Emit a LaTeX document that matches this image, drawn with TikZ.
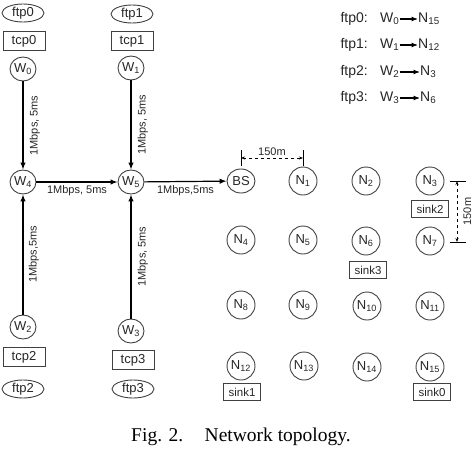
\documentclass[tikz,border=0pt]{standalone}
\usepackage{fontspec}
\setmainfont{Liberation Sans}
\newfontfamily\capfont{Liberation Serif}
\usetikzlibrary{shapes.geometric,arrows.meta}

\begin{document}
\begin{tikzpicture}[x=1pt,y=-1pt]
\tikzset{wnoeud/.style={draw=black!75, ellipse, line width=0.9pt, minimum width=26pt, minimum height=24pt, inner sep=0pt, text=black!85, font=\fontsize{13}{15}\selectfont}}
\tikzset{nnoeud/.style={draw=black!75, circle, line width=0.9pt, minimum size=28pt, inner sep=0pt, text=black!85, font=\fontsize{13}{15}\selectfont}}
\tikzset{tcpboite/.style={draw=black!75, rectangle, line width=0.9pt, minimum width=42pt, minimum height=19pt, inner sep=0pt, text=black!85, font=\fontsize{13}{15}\selectfont}}
\tikzset{ftpovale/.style={draw=black!75, ellipse, line width=0.9pt, minimum width=42pt, minimum height=18pt, inner sep=0pt, text=black!85, font=\fontsize{13}{15}\selectfont}}
\tikzset{puits/.style={draw=black!75, rectangle, line width=0.9pt, minimum width=37pt, minimum height=17pt, inner sep=0pt, text=black!85, font=\fontsize{11.5}{13}\selectfont}}
\tikzset{lien/.style={line width=1.2pt, -{Latex[length=7pt,width=5.5pt]}}}
\tikzset{debit/.style={inner sep=3pt, text=black!85, font=\fontsize{11}{13}\selectfont}}
\tikzset{cote/.style={dashed, line width=0.7pt, {Stealth[length=4pt,width=3pt]}-{Stealth[length=4pt,width=3pt]}}}
\tikzset{legende/.style={inner sep=0pt, text=black!85, font=\fontsize{14}{16}\selectfont}}
\tikzset{fleche/.style={line width=1.1pt, -{Latex[length=6.5pt,width=5pt]}}}
\useasboundingbox (0,0) rectangle (474,453);
% sources
\node[ftpovale] (F0) at (23,13) {ftp0};
\node[tcpboite] (T0) at (24,41) {tcp0};
\node[wnoeud] (W0) at (23,69) {W\textsubscript{0}};
\node[ftpovale] (F1) at (132,14) {ftp1};
\node[tcpboite] (T1) at (132,41) {tcp1};
\node[wnoeud] (W1) at (131,68) {W\textsubscript{1}};
\node[wnoeud] (W4) at (23,182) {W\textsubscript{4}};
\node[wnoeud] (W5) at (131,182) {W\textsubscript{5}};
\node[wnoeud] (W2) at (23,327) {W\textsubscript{2}};
\node[tcpboite] (T2) at (24,357) {tcp2};
\node[ftpovale] (F2) at (23,389) {ftp2};
\node[wnoeud] (W3) at (131,331) {W\textsubscript{3}};
\node[tcpboite] (T3) at (133,360) {tcp3};
\node[ftpovale] (F3) at (133,389) {ftp3};
% grille
\node[wnoeud, minimum width=28pt, minimum height=24pt] (BS) at (241,181) {BS};
\node[nnoeud] (N1) at (303,181) {N\textsubscript{1}};
\node[nnoeud] (N2) at (366,181) {N\textsubscript{2}};
\node[nnoeud] (N3) at (430,181) {N\textsubscript{3}};
\node[nnoeud] (N4) at (241,240) {N\textsubscript{4}};
\node[nnoeud] (N5) at (303,240) {N\textsubscript{5}};
\node[nnoeud] (N6) at (366,241) {N\textsubscript{6}};
\node[nnoeud] (N7) at (430,241) {N\textsubscript{7}};
\node[nnoeud] (N8) at (241,305) {N\textsubscript{8}};
\node[nnoeud] (N9) at (303,305) {N\textsubscript{9}};
\node[nnoeud] (N10) at (367,306) {N\textsubscript{10}};
\node[nnoeud] (N11) at (430,306) {N\textsubscript{11}};
\node[nnoeud] (N12) at (241,366) {N\textsubscript{12}};
\node[nnoeud] (N13) at (304,366) {N\textsubscript{13}};
\node[nnoeud] (N14) at (367,367) {N\textsubscript{14}};
\node[nnoeud] (N15) at (430,367) {N\textsubscript{15}};
\node[puits] (S2) at (430,209) {sink2};
\node[puits] (S3) at (368,270) {sink3};
\node[puits] (S1) at (242,392) {sink1};
\node[puits] (S0) at (432,392) {sink0};
% liens
\draw[lien] (W0) -- node[debit, midway, rotate=90, anchor=north, inner sep=6pt] {1Mbps, 5ms} (W4);
\draw[lien] (W1) -- node[debit, midway, rotate=90, anchor=north, inner sep=6pt] {1Mbps, 5ms} (W5);
\draw[lien] (W2) -- node[debit, midway, rotate=90, anchor=north, inner sep=5pt] {1Mbps,5ms} (W4);
\draw[lien] (W3) -- node[debit, midway, rotate=90, anchor=north, inner sep=6pt] {1Mbps, 5ms} (W5);
\draw[lien] (W4) -- node[debit, midway, below] {1Mbps, 5ms} (W5);
\draw[lien] (W5) -- node[debit, midway, below] {1Mbps,5ms} (BS);
% cotes
\coordinate (cA) at (241,158);
\coordinate (cB) at (303,158);
\draw[line width=0.7pt] (241,150) -- (241,166);
\draw[line width=0.7pt] (303,150) -- (303,166);
\draw[cote] (cA) -- node[debit, midway, above, inner sep=2pt] {150m} (cB);
\coordinate (cC) at (457,181);
\coordinate (cD) at (457,242);
\draw[line width=0.7pt] (450,181) -- (466,181);
\draw[line width=0.7pt] (450,242) -- (466,242);
\draw[cote] (cC) -- node[debit, midway, rotate=90, anchor=north, inner sep=6pt] {150m} (cD);
% legende
\node[legende, anchor=east] (L0) at (368,19) {ftp0:};
\node[legende, anchor=west] (LW0) at (380,19) {W\textsubscript{0}};
\node[legende, anchor=west] (LN0) at (418,19) {N\textsubscript{15}};
\draw[fleche] (LW0) -- (LN0);
\node[legende, anchor=east] (L1) at (368,45) {ftp1:};
\node[legende, anchor=west] (LW1) at (380,45) {W\textsubscript{1}};
\node[legende, anchor=west] (LN1) at (418,45) {N\textsubscript{12}};
\draw[fleche] (LW1) -- (LN1);
\node[legende, anchor=east] (L2) at (368,72) {ftp2:};
\node[legende, anchor=west] (LW2) at (380,72) {W\textsubscript{2}};
\node[legende, anchor=west] (LN2) at (420,72) {N\textsubscript{3}};
\draw[fleche] (LW2) -- (LN2);
\node[legende, anchor=east] (L3) at (368,98) {ftp3:};
\node[legende, anchor=west] (LW3) at (380,98) {W\textsubscript{3}};
\node[legende, anchor=west] (LN3) at (420,98) {N\textsubscript{6}};
\draw[fleche] (LW3) -- (LN3);
% titre
\node[font=\capfont\fontsize{19.5}{22}\selectfont] (titre) at (241,437) {Fig. 2.\hspace{1.1em}Network topology.};
\end{tikzpicture}
\end{document}
